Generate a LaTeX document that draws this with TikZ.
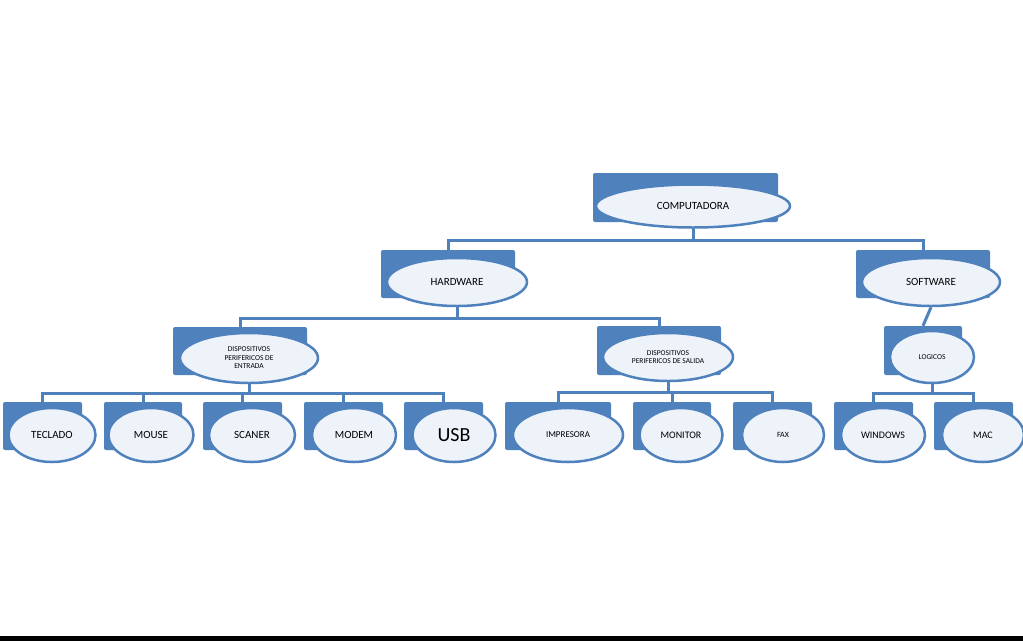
\documentclass[tikz,border=0pt]{standalone}
\usepackage{fontspec}
\setmainfont{Carlito}
\usetikzlibrary{shapes.geometric}
\definecolor{boxblue}{HTML}{4F81BD}
\definecolor{ovalfill}{HTML}{EEF3FA}
\begin{document}
\begin{tikzpicture}[
    x=1pt, y=-1pt,
    plate/.style={rectangle, fill=boxblue, rounded corners=2pt, inner sep=0pt},
    oval/.style={ellipse, draw=boxblue, line width=2.5pt, fill=ovalfill, inner sep=0pt, align=center, font=\fontsize{11}{12}\selectfont},
    small/.style={font=\fontsize{7.5}{8.5}\selectfont},
    link/.style={draw=boxblue, line width=3pt}
]
\useasboundingbox (0,0) rectangle (1023,641);
\fill (0,636) rectangle (1023,641);

% top levels
\node[plate, minimum width=185, minimum height=49] (compR) at (685.5,197.5) {};
\node[oval, minimum width=194, minimum height=43] (compE) at (693,206) {COMPUTADORA};
\node[plate, minimum width=134, minimum height=48] (hwR) at (448,274) {};
\node[oval, minimum width=140, minimum height=48] (hwE) at (457,282) {HARDWARE};
\node[plate, minimum width=134, minimum height=48] (swR) at (923,274) {};
\node[oval, minimum width=138, minimum height=48] (swE) at (931,282) {SOFTWARE};

% second level
\node[plate, minimum width=134, minimum height=48] (inR) at (240,351) {};
\node[oval, small, minimum width=138, minimum height=50] (inE) at (249,358) {DISPOSITIVOS\\PERIFERICOS DE\\ENTRADA};
\node[plate, minimum width=124, minimum height=49] (outR) at (659,350.5) {};
\node[oval, small, minimum width=130, minimum height=48] (outE) at (668,357) {DISPOSITIVOS\\PERIFERICOS DE SALIDA};
\node[plate, minimum width=78, minimum height=49] (logR) at (923,350.5) {};
\node[oval, small, minimum width=84, minimum height=52] (logE) at (932,357) {LOGICOS};

% leaves
\foreach \name/\rx/\rw/\ex/\ew/\txt in {
    tec/42.5/79/52/87/TECLADO, mou/143/78/151/85/MOUSE, sca/242.5/79/252/86/SCANER,
    mod/343.5/79/354/84/MODEM, imp/558/106/568/110/{\fontsize{9}{10}\selectfont IMPRESORA},
    mon/672/78/681/83/{\fontsize{10}{11}\selectfont MONITOR}, fax/772.5/79/783/82/{\fontsize{8}{9}\selectfont FAX},
    win/873.5/79/883/84/{\fontsize{10}{11}\selectfont WINDOWS}, mac/973.5/79/983/82/{\fontsize{10}{11}\selectfont MAC}} {
  \node[plate, minimum width=\rw, minimum height=48] (\name R) at (\rx,426) {};
  \node[oval, minimum width=\ew, minimum height=54] (\name E) at (\ex,435) {\txt};
}
\node[plate, minimum width=79, minimum height=48] (usbR) at (443.5,426) {};
\node[oval, minimum width=83, minimum height=54, font=\fontsize{20}{22}\selectfont] (usbE) at (454,435) {USB};

% connectors
\draw[link] (compE.south) -- ++(0,12) -| (hwR.north);
\draw[link] (compE.south) -- ++(0,12) -| (swR.north);
\draw[link] (hwE.south) -- ++(0,11) -| (inR.north);
\draw[link] (hwE.south) -- ++(0,11) -| (outR.north);
\draw[link] (swE.south) -- (logR.north);
\foreach \leaf in {tec,mou,sca,mod,usb}
  \draw[link] (inE.south) -- ++(0,9) -| (\leaf R.north);
\foreach \leaf in {imp,mon,fax}
  \draw[link] (outE.south) -- ++(0,10) -| (\leaf R.north);
\foreach \leaf in {win,mac}
  \draw[link] (logE.south) -- ++(0,9) -| (\leaf R.north);
\end{tikzpicture}
\end{document}
